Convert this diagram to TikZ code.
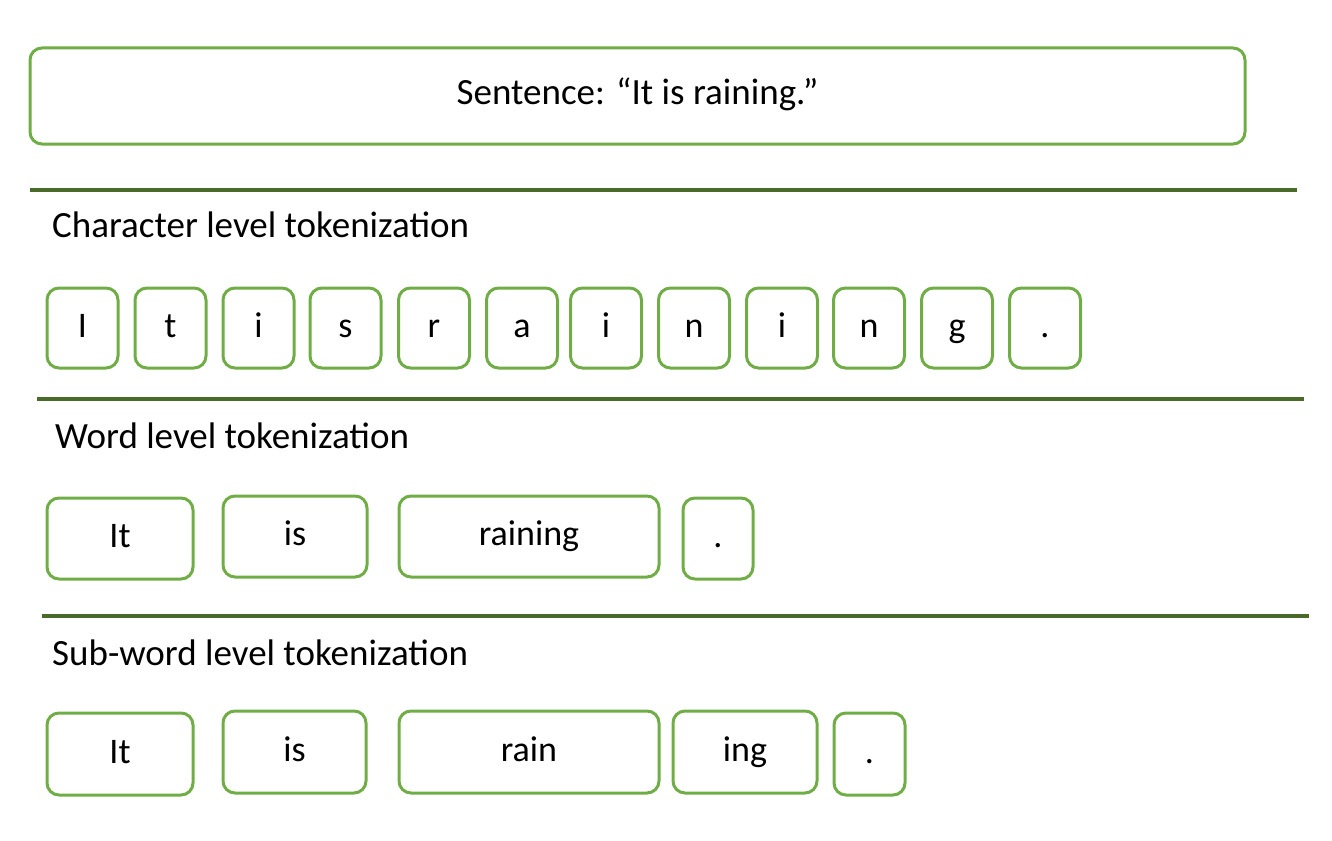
\documentclass[tikz,border=0pt]{standalone}
\usepackage{fontspec}
\setmainfont{Carlito}
\definecolor{boxgreen}{HTML}{70AD47}
\definecolor{linegreen}{HTML}{4A6A2A}
\begin{document}
\begin{tikzpicture}[x=1pt,y=-1pt,
  tok/.style={draw=boxgreen, line width=3pt, rounded corners=12pt, inner sep=0pt,
    font=\fontsize{36}{42}\selectfont, text height=25pt, text depth=7pt},
  sep/.style={draw=linegreen, line width=3.5pt},
  head/.style={anchor=west, inner sep=0pt, font=\fontsize{37}{44}\selectfont}]
\useasboundingbox (0,0) rectangle (1332,840);
\node[tok, minimum width=1215pt, minimum height=96pt, font=\fontsize{37}{44}\selectfont] (sent) at (637.5,96) {Sentence: “It is raining.”};
\coordinate (l1a) at (30,190); \coordinate (l1b) at (1297,190);
\coordinate (l2a) at (37,399); \coordinate (l2b) at (1304,399);
\coordinate (l3a) at (42,616); \coordinate (l3b) at (1309,616);
\draw[sep] (l1a) -- (l1b);
\draw[sep] (l2a) -- (l2b);
\draw[sep] (l3a) -- (l3b);
\node[head] (h1) at (52,225) {Character level tokenization};
\node[head] (h2) at (55,436) {Word level tokenization};
\node[head] (h3) at (52,653) {Sub-word level tokenization};
% character tokens
\foreach \n/\x/\t in {c1/82.5/I, c2/170.5/t, c3/258.5/i, c4/345.5/s, c5/434/r, c6/522/a,
    c7/606/i, c8/694/n, c9/782/i, c10/869/n, c11/957/g, c12/1045/.}
  \node[tok, minimum width=71pt, minimum height=80pt] (\n) at (\x,328) {\t};
% word tokens
\node[tok, minimum width=146pt, minimum height=81pt] (w1) at (120,538.5) {It};
\node[tok, minimum width=144pt, minimum height=81pt] (w2) at (295,536.5) {is};
\node[tok, minimum width=260pt, minimum height=81pt] (w3) at (529,536.5) {raining};
\node[tok, minimum width=70pt, minimum height=81pt] (w4) at (718,538.5) {.};
% sub-word tokens
\node[tok, minimum width=146pt, minimum height=82pt] (s1) at (120,754) {It};
\node[tok, minimum width=143pt, minimum height=82pt] (s2) at (294.5,752) {is};
\node[tok, minimum width=260pt, minimum height=82pt] (s3) at (529,752) {rain};
\node[tok, minimum width=144pt, minimum height=82pt] (s4) at (745,752) {ing};
\node[tok, minimum width=71pt, minimum height=82pt] (s5) at (869.5,754) {.};
\end{tikzpicture}
\end{document}
